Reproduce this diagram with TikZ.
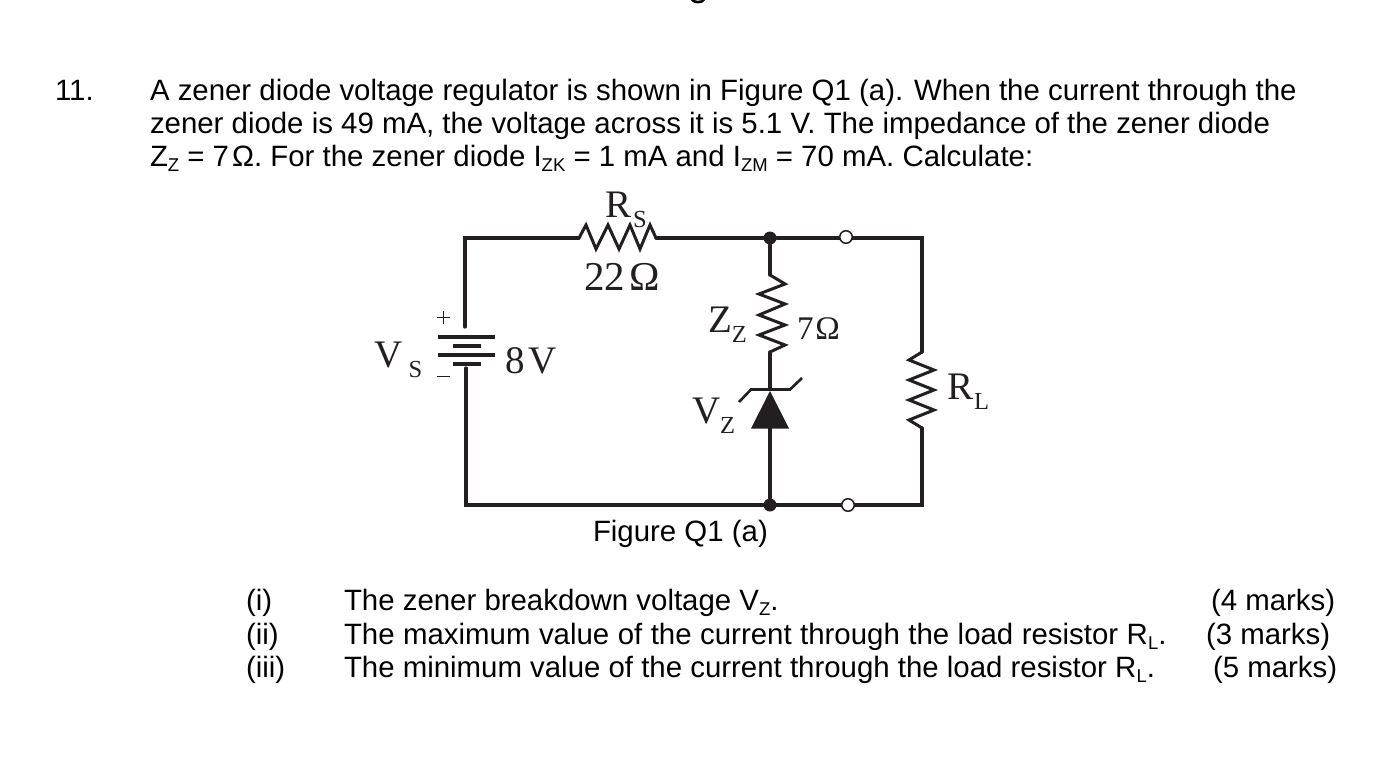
\documentclass[tikz,border=0pt]{standalone}
\usepackage{fontspec}
\setmainfont{Liberation Sans}
\newfontfamily\serifcirc{Liberation Serif}
\definecolor{ink}{HTML}{231F20}
\newcommand{\sbs}[1]{\raisebox{-0.17em}{\fontsize{18.5}{20}\selectfont #1}}
\newcommand{\csub}[1]{\raisebox{-0.26em}{\fontsize{24.5}{25}\selectfont #1}}
\tikzset{
  para/.style={anchor=base west,inner sep=0pt,outer sep=0pt,font=\fontsize{29.4}{33}\selectfont,text=black},
  circ/.style={anchor=base west,inner sep=0pt,outer sep=0pt,font=\serifcirc\fontsize{39}{40}\selectfont,text=ink},
  wire/.style={draw=ink,line width=3.3pt,line cap=round,line join=miter},
  thin wire/.style={draw=ink,line width=3pt,line join=miter},
  solder/.style={circle,fill=ink,minimum size=13pt,inner sep=0pt},
  terminal/.style={circle,draw=ink,line width=1.5pt,fill=white,minimum size=12.5pt,inner sep=0pt},
  plate/.style={draw=ink,line width=4pt}
}
\begin{document}
\begin{tikzpicture}[x=1pt,y=-1pt]
\useasboundingbox (0,0) rectangle (1384,768);
\fill[white] (0,0) rectangle (1384,768);
% cut-off descender at page top
\draw[black,line width=2.6pt] (692,-0.5) .. controls (694,3) and (702,3) .. (704,-0.5);
% paragraph
\node[para] (num) at (55,100) {11.};
\node[para] (l1) at (150,100) {A zener diode voltage regulator is shown in Figure Q1 (a). When the current through the};
\node[para] (l2) at (150,133) {zener diode is 49 mA, the voltage across it is 5.1 V. The impedance of the zener diode};
\node[para] (l3) at (150,166.5) {Z\sbs{Z} = 7\kern3ptΩ. For the zener diode I\sbs{ZK} = 1 mA and I\sbs{ZM} = 70 mA. Calculate:};
% circuit coordinates
\coordinate (tl) at (465,238);
\coordinate (bl) at (466,505);
\coordinate (tr) at (922,238);
\coordinate (br) at (922,505);
\coordinate (rsL) at (579,238);
\coordinate (rsR) at (656,238);
\coordinate (batT) at (465,327);
\coordinate (batB) at (466,368);
\coordinate (zzT) at (770,275);
\coordinate (zzB) at (770,352);
\coordinate (barC) at (770,389);
\coordinate (triB) at (770,428);
\coordinate (rlT) at (922,352);
\coordinate (rlB) at (922,428);
\node[solder] (j1) at (770,238) {};
\node[solder] (j2) at (770,505) {};
% wires
\draw[wire] (batT) -- (tl) -- (rsL);
\draw[wire] (rsR) -- (j1) -- (tr) -- (rlT);
\draw[wire] (batB) -- (bl) -- (br) -- (rlB);
\draw[wire] (j1) -- (zzT);
\draw[wire] (zzB) -- (barC);
\draw[wire] (triB) -- (j2);
\node[terminal] (t1) at (846,237) {};
\node[terminal] (t2) at (848,505) {};
% Rs
\draw[thin wire] (rsL) -- (586,225) -- (596,249) -- (608,225) -- (619,249) -- (630,225) -- (640,249) -- (650,225) -- (rsR);
% Zz
\draw[thin wire] (zzT) -- (785,284) -- (759,294) -- (785,304) -- (759,315) -- (785,325) -- (759,335) -- (785,345) -- (zzB);
% RL
\draw[thin wire] (rlT) -- (909,360) -- (934,370) -- (909,380) -- (934,390) -- (909,400) -- (934,410) -- (909,420) -- (rlB);
% battery
\draw[plate] (438,337) -- (495,337);
\draw[plate] (453,346) -- (481,346);
\draw[plate] (438,355) -- (495,355);
\draw[plate] (453,363.5) -- (481,363.5);
\draw[ink,line width=1pt] (437,317) -- (450,317) (443.5,310.5) -- (443.5,323.5);
\draw[ink,line width=1pt] (437,376) -- (450,376);
% zener
\fill[ink] (770,391) -- (789,428.5) -- (751,428.5) -- cycle;
\draw[draw=ink,line width=2.6pt,line join=miter] (739,402) -- (751,389.5) -- (790,389.5) -- (802,378);
% labels
\node[circ] (rs) at (605,217) {R\kern2pt\csub{S}};
\node[circ,font=\serifcirc\fontsize{41}{42}\selectfont] (r22) at (584,290) {22\kern5ptΩ};
\node[circ] (vs) at (374,367) {V\,\csub{S}};
\node[circ] (v8) at (505,373) {8\kern4ptV};
\node[circ] (zz) at (708,332) {Z\csub{Z}};
\node[circ,font=\serifcirc\fontsize{33}{34}\selectfont] (o7) at (797,339) {7\kern2ptΩ};
\node[circ] (vz) at (692,423) {V\csub{Z}};
\node[circ] (rl) at (947,399) {R\kern1pt\csub{L}};
\node[para] (cap) at (593,541) {Figure Q1 (a)};
% questions
\node[para] (i1) at (246,610) {(i)};
\node[para] (i2) at (246,644.5) {(ii)};
\node[para] (i3) at (246,677.5) {(iii)};
\node[para] (q1) at (344,610) {The zener breakdown voltage V\sbs{Z}.};
\node[para] (q2) at (344,644.5) {\spaceskip=8.5pt The maximum value of the current through the load resistor R\sbs{L}.};
\node[para] (q3) at (344,677.5) {The minimum value of the current through the load resistor R\sbs{L}.};
\node[para] (m1) at (1211,610) {(4 marks)};
\node[para] (m2) at (1206,644.5) {(3 marks)};
\node[para] (m3) at (1213,677.5) {(5 marks)};
\end{tikzpicture}
\end{document}
